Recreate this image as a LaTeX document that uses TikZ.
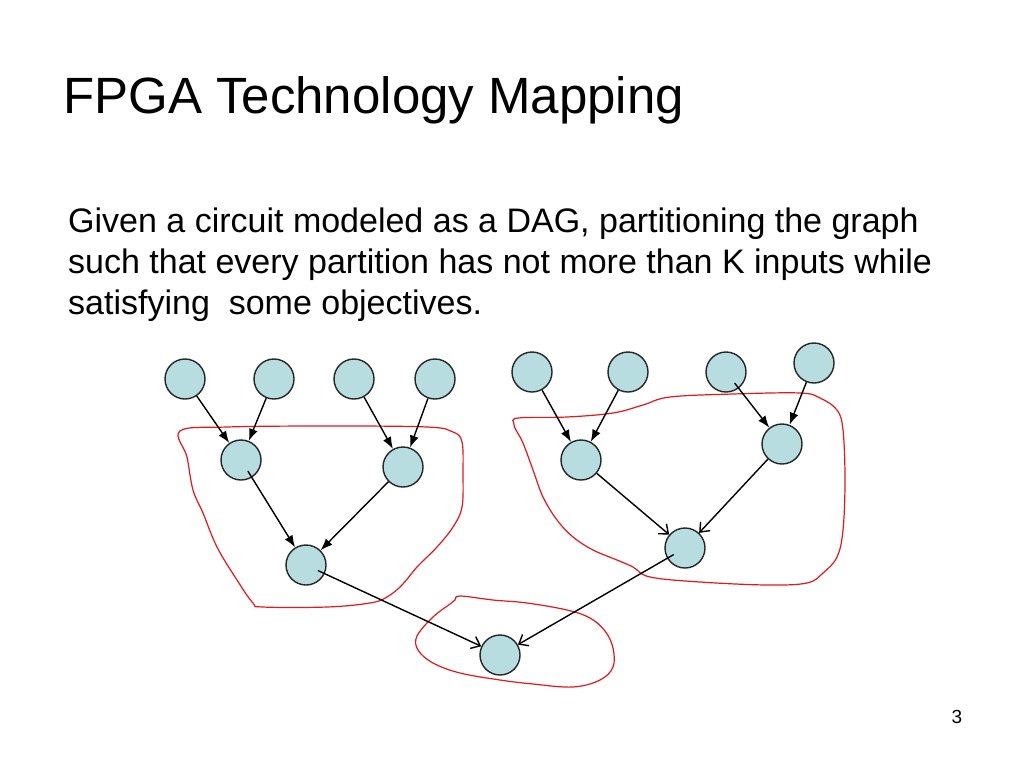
\documentclass[tikz,border=0pt]{standalone}
\usepackage{fontspec}
\setmainfont{Liberation Sans}
\usetikzlibrary{arrows.meta}
\definecolor{nodefill}{RGB}{183,221,224}
\definecolor{pen}{RGB}{225,25,30}
\tikzset{
  vtx/.style={circle, draw=black!85, line width=1.4pt, fill=nodefill, minimum size=40pt, inner sep=0pt},
  solidarr/.style={line width=1.4pt, -{Latex[length=12pt,width=9pt]}},
  openarr/.style={line width=1.4pt, -{Straight Barb[length=8pt,width=13pt]}},
  penline/.style={draw=pen, line width=1.2pt},
  titletext/.style={anchor=base west, inner sep=0pt, font=\fontsize{51}{60}\selectfont},
  bodytext/.style={anchor=base west, inner sep=0pt, font=\fontsize{34}{40}\selectfont}
}
\begin{document}
\begin{tikzpicture}[x=1pt,y=-1pt]
\useasboundingbox (0,0) rectangle (1024,768);
\fill[white] (0,0) rectangle (1024,768);

\node[titletext] (title) at (63,113) {FPGA Technology Mapping};
\node[bodytext] (l1) at (68,232) {Given a circuit modeled as a DAG, partitioning the graph};
\node[bodytext] (l2) at (68,273) {such that every partition has not more than K inputs while};
\node[bodytext] (l3) at (68,314) {satisfying~ some objectives.};
\node[anchor=center, inner sep=0pt, font=\fontsize{19}{20}\selectfont] (pg) at (957,717) {3};

% red partition outlines
\draw[penline] plot[smooth cycle, tension=0.6] coordinates {
 (180,431) (227,427) (327,426) (427,427) (453,432) (462,442) (463,473) (462,507)
 (453,527) (437,547) (417,567) (402,585) (387,597) (370,603) (327,607) (263,607)
 (253,603) (237,580) (217,547) (203,513) (193,490) (187,457)};
\draw[penline] plot[smooth cycle, tension=0.6] coordinates {
 (518,418) (567,417) (613,413) (643,405) (670,397) (733,394) (800,393) (820,398)
 (837,410) (843,430) (845,480) (843,530) (837,557) (823,573) (807,583) (767,585)
 (700,582) (650,577) (633,567) (617,560) (593,550) (573,537) (557,520) (543,497)
 (533,470) (523,443) (516,430) (514,424)};
\draw[penline] plot[smooth cycle, tension=0.6] coordinates {
 (460,596) (493,600) (527,603) (567,610) (590,618) (605,631) (613,648) (613,667)
 (600,680) (573,687) (533,684) (500,680) (460,673) (433,663) (418,650) (417,636)
 (433,617) (450,604) (455,600)};

% nodes
\node[vtx] (n1) at (185,379) {};
\node[vtx] (n2) at (274,379) {};
\node[vtx] (n3) at (354,379) {};
\node[vtx] (n4) at (435,379) {};
\node[vtx] (m1) at (241,460) {};
\node[vtx] (m2) at (403,467) {};
\node[vtx] (b1) at (306,565) {};
\node[vtx] (r1) at (532,372) {};
\node[vtx] (r2) at (628,372) {};
\node[vtx] (r3) at (726,372) {};
\node[vtx] (r4) at (814,363) {};
\node[vtx] (rm1) at (581,460) {};
\node[vtx] (rm2) at (782,444) {};
\node[vtx] (rb) at (685,548) {};
\node[vtx] (bt) at (500,655) {};

% edges
\draw[solidarr] (n1) -- (m1);
\draw[solidarr] (n2) -- (m1);
\draw[solidarr] (n3) -- (m2);
\draw[solidarr] (n4) -- (m2);
\draw[solidarr, shorten <=13pt] (m1.center) -- (b1);
\draw[solidarr] (m2) -- (b1);
\draw[solidarr] (r1) -- (rm1);
\draw[solidarr] (r2) -- (rm1);
\draw[solidarr, shorten <=14pt] (r3.center) -- (rm2);
\draw[solidarr] (r4) -- (rm2);
\draw[openarr] (rm1) -- (rb);
\draw[openarr] (rm2) -- (rb);
\draw[openarr, shorten <=13pt] (b1.center) -- (bt);
\draw[openarr, shorten <=13pt] (rb.center) -- (bt);
\end{tikzpicture}
\end{document}
